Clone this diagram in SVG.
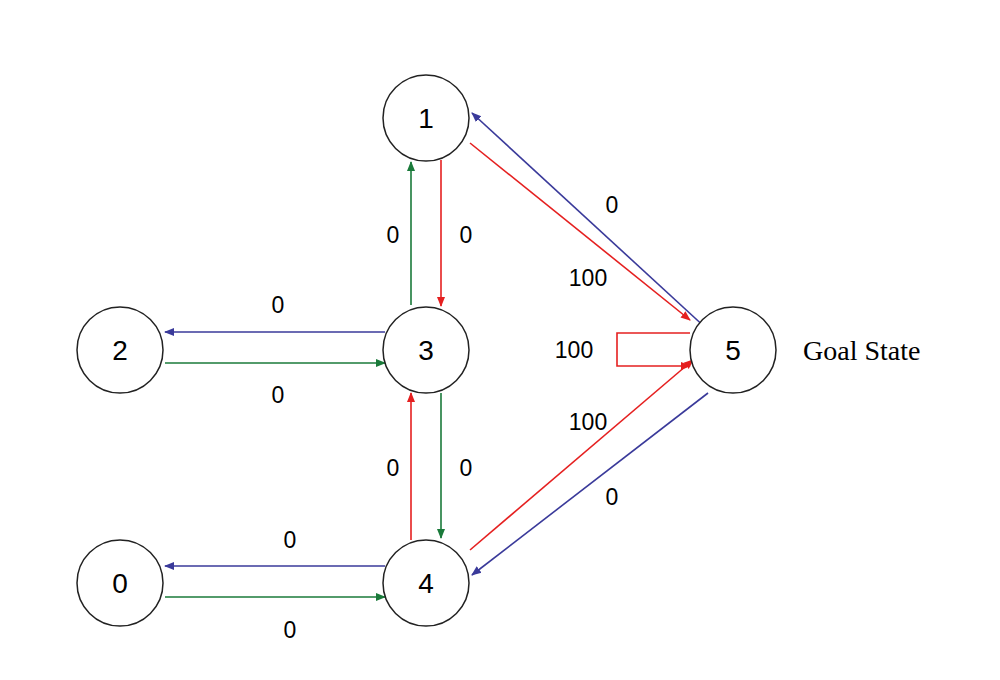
<svg xmlns="http://www.w3.org/2000/svg" width="1000" height="680" viewBox="0 0 1000 680">
<style>
.n circle{fill:#fff;stroke:#222;stroke-width:1.5}
.n text{font-family:"Liberation Sans",Arial,sans-serif;font-size:28px;text-anchor:middle;dominant-baseline:central}
.l{font-family:"Liberation Sans",Arial,sans-serif;font-size:23px;text-anchor:middle;dominant-baseline:central}
.r{stroke:#e52020;fill:none;stroke-width:1.6;marker-end:url(#ar)}
.g{stroke:#1a7a3a;fill:none;stroke-width:1.6;marker-end:url(#ag)}
.b{stroke:#3a3a9a;fill:none;stroke-width:1.6;marker-end:url(#ab)}
</style>
<defs>
<marker id="ar" markerWidth="10" markerHeight="10" refX="9" refY="5" orient="auto" markerUnits="userSpaceOnUse"><path d="M0,1 L10,5 L0,9 Z" fill="#e52020"/></marker>
<marker id="ag" markerWidth="10" markerHeight="10" refX="9" refY="5" orient="auto" markerUnits="userSpaceOnUse"><path d="M0,1 L10,5 L0,9 Z" fill="#1a7a3a"/></marker>
<marker id="ab" markerWidth="10" markerHeight="10" refX="9" refY="5" orient="auto" markerUnits="userSpaceOnUse"><path d="M0,1 L10,5 L0,9 Z" fill="#3a3a9a"/></marker>
</defs>
<rect width="1000" height="680" fill="#fff"/>
<g id="connectors">
<path class="g" d="M411,305 V162"/>
<path class="r" d="M441,160 V306"/>
<path class="b" d="M385,332 H165"/>
<path class="g" d="M165,363 H385"/>
<path class="g" d="M441,393 V538"/>
<path class="r" d="M411,540 V393"/>
<path class="b" d="M385,566 H165"/>
<path class="g" d="M165,597 H385"/>
<path class="r" d="M470,143 L690,320"/>
<path class="b" d="M708,330 L472,113"/>
<path class="r" d="M470,550 L693,360"/>
<path class="b" d="M708,393 L472,575"/>
<path class="r" d="M690,333 H617 V366 H690"/>
<text class="l" x="393" y="235">0</text>
<text class="l" x="466" y="235">0</text>
<text class="l" x="278" y="305">0</text>
<text class="l" x="278" y="395">0</text>
<text class="l" x="393" y="468">0</text>
<text class="l" x="466" y="468">0</text>
<text class="l" x="290" y="540">0</text>
<text class="l" x="290" y="630">0</text>
<text class="l" x="612" y="205">0</text>
<text class="l" x="588" y="278">100</text>
<text class="l" x="574" y="350">100</text>
<text class="l" x="588" y="422">100</text>
<text class="l" x="612" y="497">0</text>
</g>
<g id="n1" class="n"><circle cx="426" cy="118" r="43"/><text x="426" y="118">1</text></g>
<g id="n2" class="n"><circle cx="120" cy="350" r="43"/><text x="120" y="350">2</text></g>
<g id="n3" class="n"><circle cx="426" cy="350" r="43"/><text x="426" y="350">3</text></g>
<g id="n5" class="n"><circle cx="733" cy="350" r="43"/><text x="733" y="350">5</text></g>
<g id="n0" class="n"><circle cx="120" cy="583" r="43"/><text x="120" y="583">0</text></g>
<g id="n4" class="n"><circle cx="426" cy="583" r="43"/><text x="426" y="583">4</text></g>
<text x="803" y="350" font-family="Liberation Serif,Times New Roman,serif" font-size="28" dominant-baseline="central">Goal State</text>
</svg>
